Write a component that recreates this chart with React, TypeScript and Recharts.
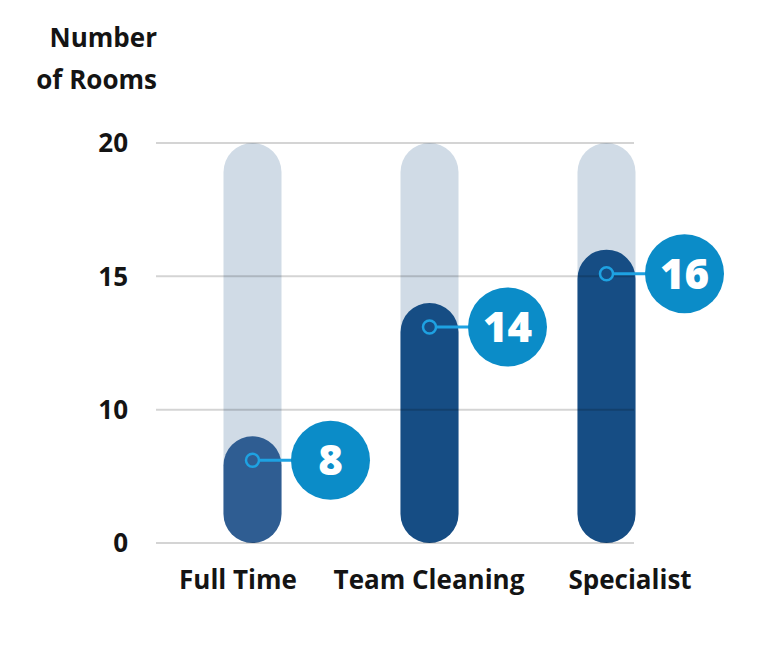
import React from 'react';
import {
  BarChart, Bar, XAxis, YAxis, ReferenceLine, LabelList, Cell,
} from 'recharts';

// categories & values
const CATEGORIES = ['Full Time', 'Team Cleaning', 'Specialist'];
const ROOMS = [8, 14, 16];
// y ticks are evenly spaced in the picture even though the numbers are not
const Y_TICKS = [0, 10, 15, 20];

const FONT = '"Open Sans", Lato, sans-serif';
const TRACK = '#d0dbe6';
const BAR_COLORS = ['#2f5d92', '#164d84', '#164d84'];
const BUBBLE = '#0b8cc8';
const RING = '#1ea2e2';
const LABEL_NUDGE = [-14, 0, 24];

// piecewise position: each tick gap gets the same height
function toPos(v: number): number {
  for (let i = 1; i < Y_TICKS.length; i++) {
    if (v <= Y_TICKS[i]) {
      return i - 1 + (v - Y_TICKS[i - 1]) / (Y_TICKS[i] - Y_TICKS[i - 1]);
    }
  }
  return Y_TICKS.length - 1;
}

const data = CATEGORIES.map((name, i) => ({
  name,
  rooms: ROOMS[i],
  pos: toPos(ROOMS[i]),
}));

function XTick({ x, y, payload, index }: any) {
  return (
    <text
      x={x + (LABEL_NUDGE[index] ?? 0)} y={y} dy="0.71em"
      textAnchor="middle"
      style={{ fontFamily: FONT, fontSize: 26, fontWeight: 700, fill: '#141414' }}
    >
      {payload.value}
    </text>
  );
}

function Marker(props: any) {
  const { x, y, width, index } = props;
  const cx = x + width / 2;
  const cy = y + 24;
  const bx = cx + 78;
  return (
    <g>
      <line x1={cx} y1={cy} x2={bx} y2={cy} stroke={RING} strokeWidth={3} />
      <circle cx={cx} cy={cy} r={6.5} fill={BAR_COLORS[index]} stroke={RING} strokeWidth={2.5} />
      <circle cx={bx} cy={cy} r={39.5} fill={BUBBLE} />
      <text
        x={bx} y={cy} dy="0.36em" textAnchor="middle"
        style={{ fontFamily: FONT, fontSize: 42, fontWeight: 800, fill: '#ffffff' }}
      >
        {ROOMS[index]}
      </text>
    </g>
  );
}

export default function App() {
  return (
    <div style={{ position: 'relative', width: 768, height: 655, background: '#fff' }}>
      <style>{'body{margin:0}'}</style>
      <div style={{
        position: 'absolute', right: 768 - 157, top: 16,
        fontFamily: FONT, fontSize: 26, fontWeight: 700, color: '#141414',
        textAlign: 'right', lineHeight: '42px', whiteSpace: 'nowrap',
      }}>
        Number<br />of Rooms
      </div>
      <BarChart
        width={768} height={655} data={data}
        margin={{ top: 143, right: 134, left: 0, bottom: 0 }}
      >
        <XAxis
          dataKey="name"
          type="category"
          axisLine={false}
          tickLine={false}
          tickSize={0}
          tickMargin={28}
          height={112}
          padding={{ left: 7.5, right: -60.5 }}
          tick={<XTick />}
          interval={0}
        />
        <YAxis
          type="number"
          domain={[0, Y_TICKS.length - 1]}
          ticks={Y_TICKS.map((_, i) => i)}
          tickFormatter={(i: number) => String(Y_TICKS[i])}
          axisLine={false}
          tickLine={false}
          tickSize={0}
          tickMargin={28}
          width={156}
          tick={{ fontFamily: FONT, fontSize: 26, fontWeight: 700, fill: '#141414' }}
        />
        <Bar
          dataKey="pos"
          barSize={58}
          radius={29}
          background={{ fill: TRACK, radius: 29 } as any}
          isAnimationActive={false}
        >
          {data.map((d, i) => (
            <Cell key={d.name} fill={BAR_COLORS[i]} />
          ))}
          <LabelList dataKey="rooms" content={<Marker />} />
        </Bar>
        {Y_TICKS.map((_, i) => (
          <ReferenceLine key={i} y={i} stroke="rgba(0,0,0,0.17)" strokeWidth={2} />
        ))}
      </BarChart>
    </div>
  );
}
